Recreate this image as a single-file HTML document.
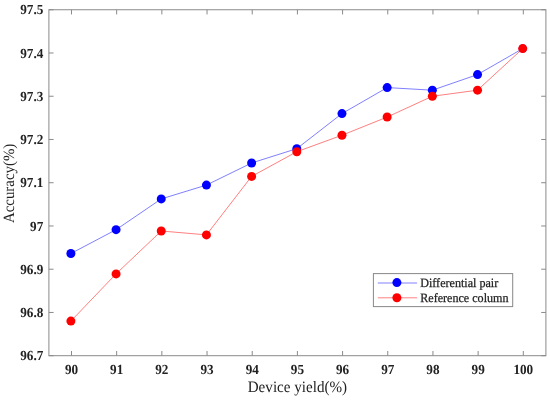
<!DOCTYPE html>
<html><head><meta charset="utf-8"><title>Accuracy vs device yield</title>
<style>
html,body{margin:0;padding:0;background:#fff;}
svg{display:block;}
text{text-rendering:geometricPrecision;font-family:"Liberation Serif","Times New Roman",serif;fill:#222;}
.tk{font-weight:bold;}
.lb{}
.lg{stroke:#222;stroke-width:0.25px;}
</style></head><body>
<svg width="550" height="400" viewBox="0 0 550 400">
<rect width="550" height="400" fill="#fff"/>
<rect x="48.9" y="9.75" width="497.00" height="345.95" fill="none" stroke="#8a8a8a" stroke-width="1"/>
<path d="M71.49 355.7V351.0M71.49 9.75V14.45M116.67 355.7V351.0M116.67 9.75V14.45M161.85 355.7V351.0M161.85 9.75V14.45M207.04 355.7V351.0M207.04 9.75V14.45M252.22 355.7V351.0M252.22 9.75V14.45M297.40 355.7V351.0M297.40 9.75V14.45M342.58 355.7V351.0M342.58 9.75V14.45M387.76 355.7V351.0M387.76 9.75V14.45M432.95 355.7V351.0M432.95 9.75V14.45M478.13 355.7V351.0M478.13 9.75V14.45M523.31 355.7V351.0M523.31 9.75V14.45M48.9 355.70H53.6M545.9 355.70H541.1999999999999M48.9 312.46H53.6M545.9 312.46H541.1999999999999M48.9 269.21H53.6M545.9 269.21H541.1999999999999M48.9 225.97H53.6M545.9 225.97H541.1999999999999M48.9 182.72H53.6M545.9 182.72H541.1999999999999M48.9 139.48H53.6M545.9 139.48H541.1999999999999M48.9 96.24H53.6M545.9 96.24H541.1999999999999M48.9 52.99H53.6M545.9 52.99H541.1999999999999M48.9 9.75H53.6M545.9 9.75H541.1999999999999" stroke="#8a8a8a" stroke-width="1" fill="none"/>
<text class="tk" transform="translate(71.49 373.50) scale(0.9524 1)" font-size="13.86" text-anchor="middle">90</text>
<text class="tk" transform="translate(116.67 373.50) scale(0.9524 1)" font-size="13.86" text-anchor="middle">91</text>
<text class="tk" transform="translate(161.85 373.50) scale(0.9524 1)" font-size="13.86" text-anchor="middle">92</text>
<text class="tk" transform="translate(207.04 373.50) scale(0.9524 1)" font-size="13.86" text-anchor="middle">93</text>
<text class="tk" transform="translate(252.22 373.50) scale(0.9524 1)" font-size="13.86" text-anchor="middle">94</text>
<text class="tk" transform="translate(297.40 373.50) scale(0.9524 1)" font-size="13.86" text-anchor="middle">95</text>
<text class="tk" transform="translate(342.58 373.50) scale(0.9524 1)" font-size="13.86" text-anchor="middle">96</text>
<text class="tk" transform="translate(387.76 373.50) scale(0.9524 1)" font-size="13.86" text-anchor="middle">97</text>
<text class="tk" transform="translate(432.95 373.50) scale(0.9524 1)" font-size="13.86" text-anchor="middle">98</text>
<text class="tk" transform="translate(478.13 373.50) scale(0.9524 1)" font-size="13.86" text-anchor="middle">99</text>
<text class="tk" transform="translate(523.31 373.50) scale(0.9524 1)" font-size="13.86" text-anchor="middle">100</text>
<text class="tk" transform="translate(43.30 360.30) scale(0.9524 1)" font-size="13.86" text-anchor="end">96.7</text>
<text class="tk" transform="translate(43.30 317.06) scale(0.9524 1)" font-size="13.86" text-anchor="end">96.8</text>
<text class="tk" transform="translate(43.30 273.81) scale(0.9524 1)" font-size="13.86" text-anchor="end">96.9</text>
<text class="tk" transform="translate(43.30 230.57) scale(0.9524 1)" font-size="13.86" text-anchor="end">97</text>
<text class="tk" transform="translate(43.30 187.32) scale(0.9524 1)" font-size="13.86" text-anchor="end">97.1</text>
<text class="tk" transform="translate(43.30 144.08) scale(0.9524 1)" font-size="13.86" text-anchor="end">97.2</text>
<text class="tk" transform="translate(43.30 100.84) scale(0.9524 1)" font-size="13.86" text-anchor="end">97.3</text>
<text class="tk" transform="translate(43.30 57.59) scale(0.9524 1)" font-size="13.86" text-anchor="end">97.4</text>
<text class="tk" transform="translate(43.30 14.35) scale(0.9524 1)" font-size="13.86" text-anchor="end">97.5</text>
<text class="lb" transform="translate(297.40 392.00) scale(0.9524 1)" font-size="15.86" text-anchor="middle">Device yield(%)</text>
<text class="lb" transform="translate(13.80 183.40) rotate(-90) scale(0.9524 1)" font-size="15.65" text-anchor="middle">Accuracy(%)</text>
<polyline points="70.89,253.52 116.07,229.69 161.25,198.93 206.44,185.07 251.62,162.97 296.80,148.67 341.98,113.58 387.16,87.59 432.35,90.18 477.53,74.59 522.71,48.59" fill="none" stroke="#8080ff" stroke-width="1"/>
<circle cx="70.89" cy="253.52" r="4.5" fill="#0000ff"/>
<circle cx="116.07" cy="229.69" r="4.5" fill="#0000ff"/>
<circle cx="161.25" cy="198.93" r="4.5" fill="#0000ff"/>
<circle cx="206.44" cy="185.07" r="4.5" fill="#0000ff"/>
<circle cx="251.62" cy="162.97" r="4.5" fill="#0000ff"/>
<circle cx="296.80" cy="148.67" r="4.5" fill="#0000ff"/>
<circle cx="341.98" cy="113.58" r="4.5" fill="#0000ff"/>
<circle cx="387.16" cy="87.59" r="4.5" fill="#0000ff"/>
<circle cx="432.35" cy="90.18" r="4.5" fill="#0000ff"/>
<circle cx="477.53" cy="74.59" r="4.5" fill="#0000ff"/>
<circle cx="522.71" cy="48.59" r="4.0" fill="#0000ff"/>
<polyline points="70.89,321.11 116.07,273.88 161.25,230.99 206.44,234.89 251.62,176.40 296.80,151.71 341.98,135.24 387.16,117.05 432.35,96.25 477.53,90.18 522.71,48.59" fill="none" stroke="#ff8080" stroke-width="1"/>
<circle cx="70.89" cy="321.11" r="4.5" fill="#ff0000"/>
<circle cx="116.07" cy="273.88" r="4.5" fill="#ff0000"/>
<circle cx="161.25" cy="230.99" r="4.5" fill="#ff0000"/>
<circle cx="206.44" cy="234.89" r="4.5" fill="#ff0000"/>
<circle cx="251.62" cy="176.40" r="4.5" fill="#ff0000"/>
<circle cx="296.80" cy="151.71" r="4.5" fill="#ff0000"/>
<circle cx="341.98" cy="135.24" r="4.5" fill="#ff0000"/>
<circle cx="387.16" cy="117.05" r="4.5" fill="#ff0000"/>
<circle cx="432.35" cy="96.25" r="4.5" fill="#ff0000"/>
<circle cx="477.53" cy="90.18" r="4.5" fill="#ff0000"/>
<circle cx="522.71" cy="48.59" r="4.5" fill="#ff0000"/>
<rect x="373.4" y="273.6" width="139.3" height="33" fill="#fff" stroke="#888" stroke-width="1"/>
<path d="M377.8 283H417.1" stroke="#8080ff" stroke-width="1"/>
<path d="M377.8 297.8H417.1" stroke="#ff8080" stroke-width="1"/>
<circle cx="396.9" cy="282.6" r="4.5" fill="#0000ff"/>
<circle cx="396.9" cy="297.8" r="4.5" fill="#ff0000"/>
<text class="lg" transform="translate(420.20 287.00) scale(0.9524 1)" font-size="12.71" text-anchor="start">Differential pair</text>
<text class="lg" transform="translate(420.20 302.00) scale(0.9524 1)" font-size="12.71" text-anchor="start">Reference column</text>
</svg></body></html>
